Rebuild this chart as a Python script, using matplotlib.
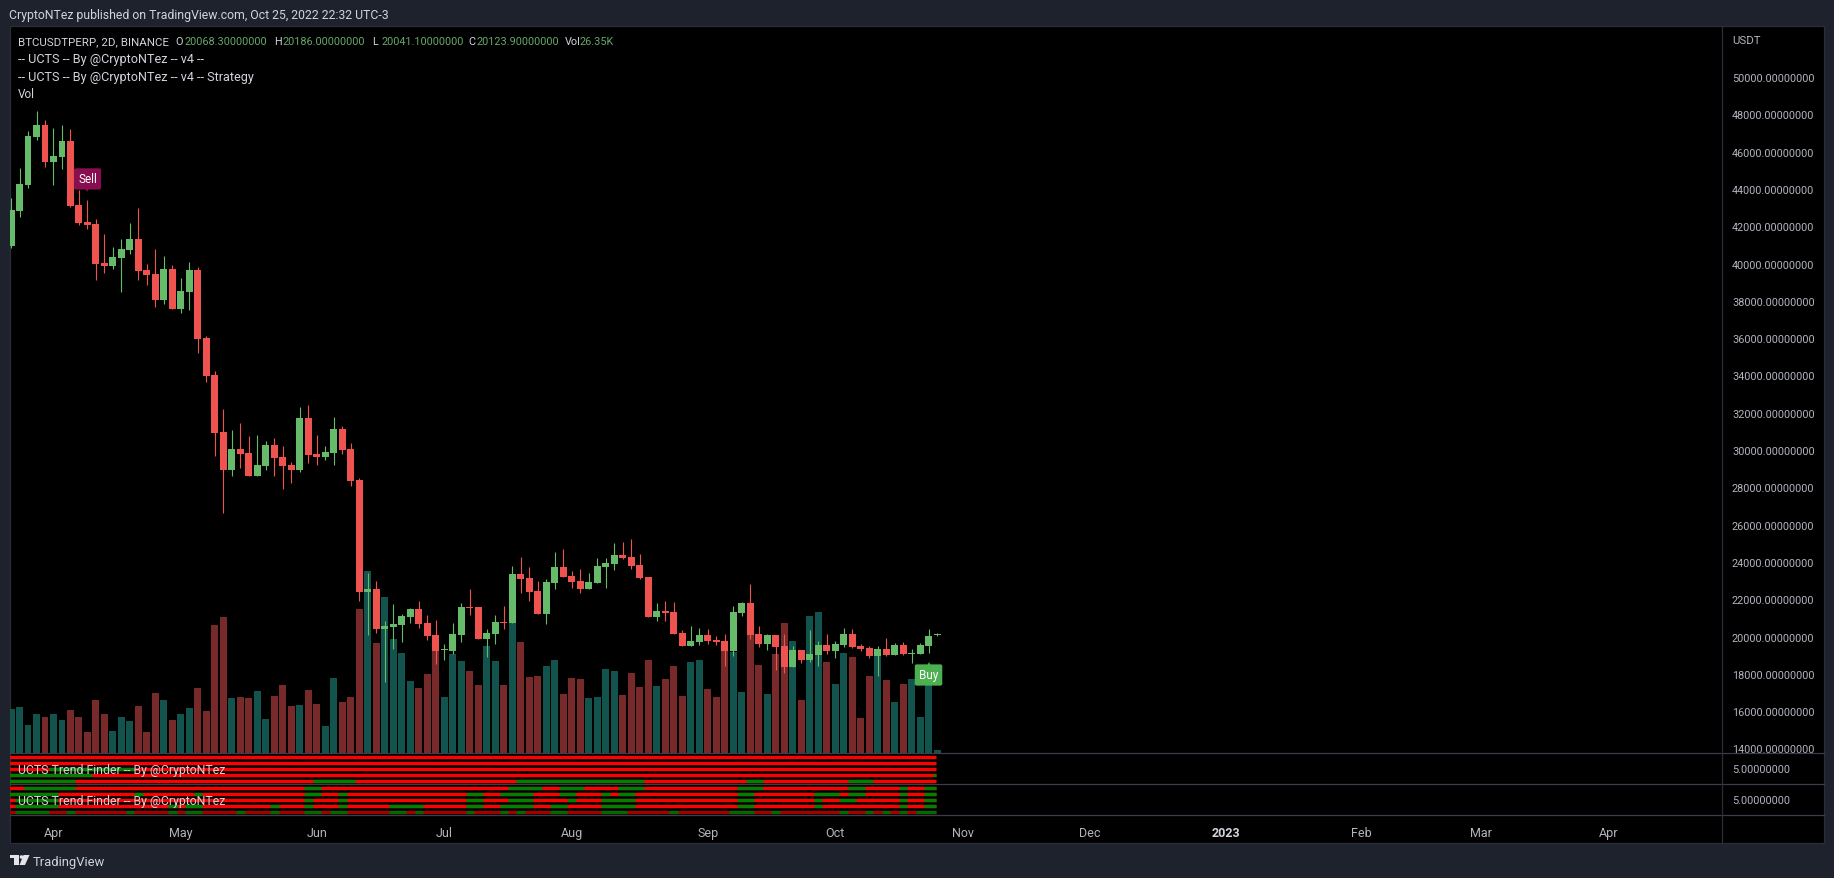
import matplotlib
matplotlib.use('Agg')
import matplotlib.pyplot as plt
from matplotlib.lines import Line2D
from matplotlib.patches import Rectangle, Polygon, Circle
from matplotlib.transforms import ScaledTranslation
import numpy as np

W, H = 1834, 879

# 2D candles, oldest first
opens = [40920, 42820, 44210, 46780, 47430, 45440, 45710, 46570, 43140, 42230, 42120, 40030, 39870, 40300, 40730,
         41320, 39650, 39440, 38050, 39710, 37560, 38470, 39650, 36010, 34030, 30970, 28930, 30060, 29840, 28610,
         29150, 30270, 29630, 29200, 28930, 31720, 29790, 29630, 29840, 31130, 30060, 28400, 22390, 22550, 20410,
         20520, 20620, 21050, 21480, 20730, 20090, 19280, 19230, 20090, 21590, 21590, 19870, 20140, 20780, 20730,
         23360, 23140, 22450, 21210, 22870, 23730, 23250, 22980, 22550, 22870, 23730, 23890, 24380, 24270, 23840,
         23200, 21050, 21370, 21320, 20190, 19500, 19710, 20090, 19820, 19760, 19230, 21270, 21800, 20140, 19600,
         20090, 19500, 18370, 19280, 18750, 19010, 19550, 19230, 19550, 20140, 19500, 19390, 18960, 19340, 19010,
         19550, 19070, 19070, 19500, 20068.3]
highs = [43510, 45120, 47090, 48180, 47700, 47250, 47430, 47200, 43940, 43410, 42390, 41580, 40890, 41320, 42170,
         42980, 39980, 40780, 40400, 39920, 39230, 40080, 39820, 36120, 34240, 32200, 31080, 31450, 30750, 30810,
         30490, 30650, 30220, 29360, 32310, 32420, 30810, 30220, 31770, 31290, 30380, 28500, 23410, 22980, 20840,
         21750, 21210, 21530, 21910, 21160, 20890, 19600, 20730, 21800, 22550, 21590, 20410, 21160, 21640, 23790,
         24270, 23730, 22980, 23090, 24520, 24700, 23520, 23620, 23410, 24210, 24210, 25020, 25070, 25230, 24430,
         23200, 21800, 21910, 21860, 20350, 20570, 20460, 20410, 20030, 20140, 21640, 21860, 22820, 20570, 20140,
         20090, 20140, 19500, 19280, 20350, 19760, 20140, 19760, 20460, 20410, 19600, 19500, 19500, 19930, 19660,
         19710, 19340, 19660, 20410, 20186]
lows = [40820, 42480, 44050, 46620, 45180, 44210, 45070, 43050, 42070, 41850, 39120, 39490, 39710, 38470, 40510,
        39120, 38850, 37670, 37830, 37560, 37350, 37510, 35200, 33650, 29680, 26630, 28610, 29040, 28610, 28610,
        28930, 28610, 27910, 28240, 28820, 29310, 29200, 29470, 29200, 29790, 28070, 21910, 20090, 20190, 17550,
        19340, 19710, 20730, 20460, 19820, 18530, 18750, 19070, 19710, 21160, 19870, 18910, 19600, 20410, 20730,
        22340, 21910, 21210, 20680, 22550, 23200, 22610, 22340, 22550, 22870, 22610, 23570, 24160, 23620, 23090,
        21050, 20840, 20840, 20140, 19500, 19500, 19550, 19600, 19550, 18420, 18960, 21110, 19870, 19440, 19280,
        18210, 18050, 18370, 18590, 18640, 18420, 19070, 18850, 19440, 19390, 19230, 18850, 17890, 18960, 19010,
        19010, 18590, 19070, 19120, 20041.1]
closes = [42870, 44260, 46840, 47430, 45440, 45770, 46570, 43090, 42170, 42070, 39980, 39870, 40350, 40780, 41320,
          39600, 39390, 38050, 39710, 37560, 38530, 39650, 35960, 33970, 30920, 28930, 30060, 29790, 28610, 29200,
          30270, 29580, 29150, 28930, 31720, 29740, 29630, 29900, 31130, 30000, 28340, 22390, 22550, 20410, 20570,
          20680, 21110, 21480, 20680, 20030, 19230, 19340, 20140, 21590, 21530, 19870, 20190, 20780, 20730, 23360,
          23090, 22390, 21210, 22930, 23730, 23200, 22930, 22550, 22930, 23790, 23950, 24380, 24210, 23790, 23140,
          21050, 21370, 21270, 20140, 19500, 19760, 20090, 19760, 19710, 19230, 21320, 21800, 20090, 19600, 20090,
          19440, 18370, 19280, 18750, 19070, 19550, 19230, 19600, 20140, 19440, 19340, 18960, 19340, 19010, 19550,
          19070, 19120, 19550, 20030, 20123.9]
# volume in thousands
volumes = [352, 368, 224, 312, 288, 312, 264, 344, 288, 168, 424, 312, 176, 288, 256, 376, 168, 480, 424, 264, 312,
           360, 520, 336, 1024, 1088, 440, 448, 440, 496, 272, 456, 544, 376, 384, 504, 392, 216, 600, 408, 448,
           1152, 1456, 880, 1248, 912, 800, 576, 520, 632, 816, 448, 792, 736, 656, 544, 856, 736, 547, 1043, 891,
           611, 619, 699, 747, 475, 603, 595, 443, 451, 675, 659, 467, 643, 531, 747, 539, 595, 699, 459, 731, 747,
           515, 451, 819, 811, 491, 947, 707, 475, 795, 1043, 899, 427, 1099, 1131, 731, 555, 803, 771, 283, 619,
           779, 587, 411, 555, 595, 291, 621, 26.35]

# UCTS Trend Finder, first and last bar of the green runs in each row
finder_a = [[],
            [],
            [(5, 14)],
            [(0, 9), (109, 109)],
            [(0, 7), (36, 40), (60, 74), (87, 88), (99, 101)]]
finder_b = [[(2, 7), (35, 36), (59, 62), (65, 67), (72, 74), (86, 88), (99, 100), (105, 105), (108, 109)],
            [(0, 5), (15, 15), (22, 22), (35, 36), (39, 39), (54, 55), (58, 61), (65, 66), (70, 70), (72, 73),
             (86, 87), (95, 97), (99, 100), (105, 105), (108, 109)],
            [(1, 5), (35, 35), (39, 39), (54, 55), (59, 61), (66, 66), (70, 73), (86, 87), (95, 95), (98, 99),
             (105, 105), (108, 109)],
            [(1, 5), (19, 19), (21, 22), (31, 31), (35, 35), (39, 39), (45, 48), (54, 55), (58, 61), (64, 65),
             (70, 73), (86, 87), (95, 95), (105, 105), (108, 109)],
            [(1, 4), (7, 7), (14, 14), (19, 19), (21, 22), (27, 27), (31, 31), (35, 36), (38, 39), (45, 46),
             (48, 48), (54, 54), (58, 58), (60, 60), (64, 65), (70, 72), (78, 78), (85, 87), (90, 90), (98, 98),
             (101, 101), (103, 103), (105, 105), (107, 109)]]

price_ticks = list(range(14000, 50001, 2000))
tick_bars = [5, 20, 36, 51, 66, 82, 97, 112, 127, 143, 159, 173, 188]
tick_labels = ['Apr', 'May', 'Jun', 'Jul', 'Aug', 'Sep', 'Oct', 'Nov', 'Dec', '2023', 'Feb', 'Mar', 'Apr']

BG = '#1e222d'
FG = '#d1d4dc'
AXIS = '#b2b5be'
GREEN = '#66bb6a'
RED = '#ef5350'
VALUE = '#66a86a'

plt.rcParams['font.family'] = ['Roboto', 'DejaVu Sans']


def rect(x0, y0, x1, y1):
    # pixel box, y measured from the top of the image
    return [x0 / W, 1 - y1 / H, (x1 - x0) / W, (y1 - y0) / H]


def fx(x):
    return x / W


def fy(y):
    return 1 - y / H


def label(x, y, s, color=FG, size=8.5, **kw):
    fig.text(fx(x), fy(y), s, color=color, fontsize=size, va='center', ha=kw.pop('ha', 'left'), zorder=20, **kw)


def rule(x0, y0, x1, y1, color='#2a2e39'):
    fig.add_artist(Line2D([fx(x0), fx(x1)], [fy(y0), fy(y1)], color=color, lw=0.9, zorder=15))


fig = plt.figure(figsize=(W / 100, H / 100), dpi=100, facecolor=BG)
fig.patches.append(Rectangle((fx(10), fy(843.5)), (1824 - 10) / W, (843.5 - 27) / H, transform=fig.transFigure,
                             facecolor='black', edgecolor='#2a2e39', lw=0.9, zorder=0))

x = np.arange(len(opens))
o, h, l, c = map(np.array, (opens, highs, lows, closes))
up = c >= o
xlim = (-0.12, 201.4)

ax_vol = fig.add_axes(rect(10, 27, 1722, 754.3), facecolor='black', zorder=1)
ax_vol.bar(x, volumes, width=0.82, color=np.where(up, '#13534d', '#772a29'), linewidth=0)
ax_vol.set_xlim(xlim)
ax_vol.set_ylim(0, 5816)
ax_vol.axis('off')

ax = fig.add_axes(rect(10, 27, 1722, 754.3), zorder=2)
ax.patch.set_visible(False)
candle_colors = np.where(up, GREEN, RED)
ax.vlines(x, l, h, colors=candle_colors, lw=0.8)
ax.bar(x, np.abs(c - o), bottom=np.minimum(o, c), width=0.82, color=candle_colors, linewidth=0)
ax.set_xlim(xlim)
ax.set_ylim(13742, 52734)
ax.yaxis.tick_right()
ax.set_yticks(price_ticks, [f'{p:.8f}' for p in price_ticks])
ax.set_xticks([])
ax.tick_params(axis='y', length=0, pad=7.2, labelsize=7.8, labelcolor=AXIS)
for s in ax.spines.values():
    s.set_visible(False)

# Sell / Buy labels hang off the bar that fired
ax.plot(x[9], h[9], marker='v', ms=5, color='#880e4f', mew=0,
        transform=ax.transData + ScaledTranslation(0, 11 / 100, fig.dpi_scale_trans))
ax.annotate('Sell', (x[9], h[9]), xytext=(0, 21), textcoords='offset pixels', ha='center', va='center', color='white',
            fontsize=8.5, bbox=dict(boxstyle='round,pad=0.35,rounding_size=0.15', fc='#880e4f', ec='none'))
ax.plot(x[108], l[108], marker='^', ms=5, color='#4caf50', mew=0,
        transform=ax.transData + ScaledTranslation(0, -12 / 100, fig.dpi_scale_trans))
ax.annotate('Buy', (x[108], l[108]), xytext=(0, -22), textcoords='offset pixels', ha='center', va='center',
            color='white', fontsize=8.5, bbox=dict(boxstyle='round,pad=0.35,rounding_size=0.15', fc='#4caf50', ec='none'))


def finder_pane(top, rows, last_red, last_green):
    a = fig.add_axes(rect(10, top, 1722, top + 31), facecolor='black', zorder=3)
    a.patch.set_alpha(0)
    for k, runs in enumerate(rows):
        red = last_red if k == 4 else '#ff0000'
        green = last_green if k == 4 else '#008000'
        a.hlines(k + 1, x[0] - 0.5, x[-1] - 0.1, color=red, lw=2.4, capstyle='butt')
        for first, last in runs:
            a.hlines(k + 1, first - 0.5, min(last + 0.5, x[-1] - 0.1), color=green, lw=2.4, capstyle='butt')
    a.set_xlim(xlim)
    a.set_ylim(5.5, 0.333)
    a.yaxis.tick_right()
    a.set_yticks([2.85], ['5.00000000'])
    a.set_xticks([])
    a.tick_params(axis='y', length=0, pad=7.2, labelsize=7.8, labelcolor=AXIS)
    a.text(0.8, 2.95, 'UCTS Trend Finder -- By @CryptoNTez', color=FG, fontsize=8.85, va='center')
    for s in a.spines.values():
        s.set_visible(False)
    return a


ax_a = finder_pane(754.3, finder_a, '#ff0000', '#008000')
ax_b = finder_pane(785.3, finder_b, '#a00000', '#006a00')

ax_b.set_xticks(tick_bars, tick_labels)
ax_b.tick_params(axis='x', length=0, pad=7.5, labelsize=9, labelcolor=AXIS)
for t in ax_b.get_xticklabels():
    if t.get_text() == '2023':
        t.set_fontweight('bold')
        t.set_color(FG)

rule(10, 754.3, 1824, 754.3, '#3a3e49')
rule(10, 785.3, 1824, 785.3, '#3a3e49')
rule(10, 816.3, 1824, 816.3, '#3a3e49')
rule(1722.3, 27, 1722.3, 843.5)

label(9, 15, 'CryptoNTez published on TradingView.com, Oct 25, 2022 22:32 UTC-3', size=8.8)
label(18, 42, 'BTCUSDTPERP, 2D, BINANCE', size=8.25)
for px, name, val in [(175.6, 'O', '20068.30000000'), (274, 'H', '20186.00000000'), (372.5, 'L', '20041.10000000'),
                      (468, 'C', '20123.90000000')]:
    label(px, 42, name, size=7.8)
    label(px + 8.5, 42, val, color=VALUE, size=7.8)
label(565, 42, 'Vol', size=7.8)
label(579, 42, '26.35K', color=VALUE, size=7.8)
label(18, 60, '-- UCTS -- By @CryptoNTez -- v4 --', size=9.1)
label(18, 77, '-- UCTS -- By @CryptoNTez -- v4 -- Strategy', size=9.1)
label(18, 94, 'Vol')
label(1732, 41, 'USDT', color=AXIS, size=8.2)

# TradingView logo and name
logo = fig.add_axes([0, 0, 1, 1], zorder=20)
logo.set_xlim(0, W)
logo.set_ylim(H, 0)
logo.axis('off')
logo.add_patch(Polygon([(10, 856), (19, 856), (19, 866), (14, 866), (14, 859.5), (10, 859.5)], color='#e3e5ea', lw=0))
logo.add_patch(Circle((21.5, 858), 1.8, color='#e3e5ea', lw=0))
logo.add_patch(Polygon([(23.5, 856), (29.5, 856), (25, 866), (19.5, 866)], color='#e3e5ea', lw=0))
label(33, 862.5, 'TradingView', size=9.4)

fig.savefig('out.png', dpi=100, facecolor=BG)
